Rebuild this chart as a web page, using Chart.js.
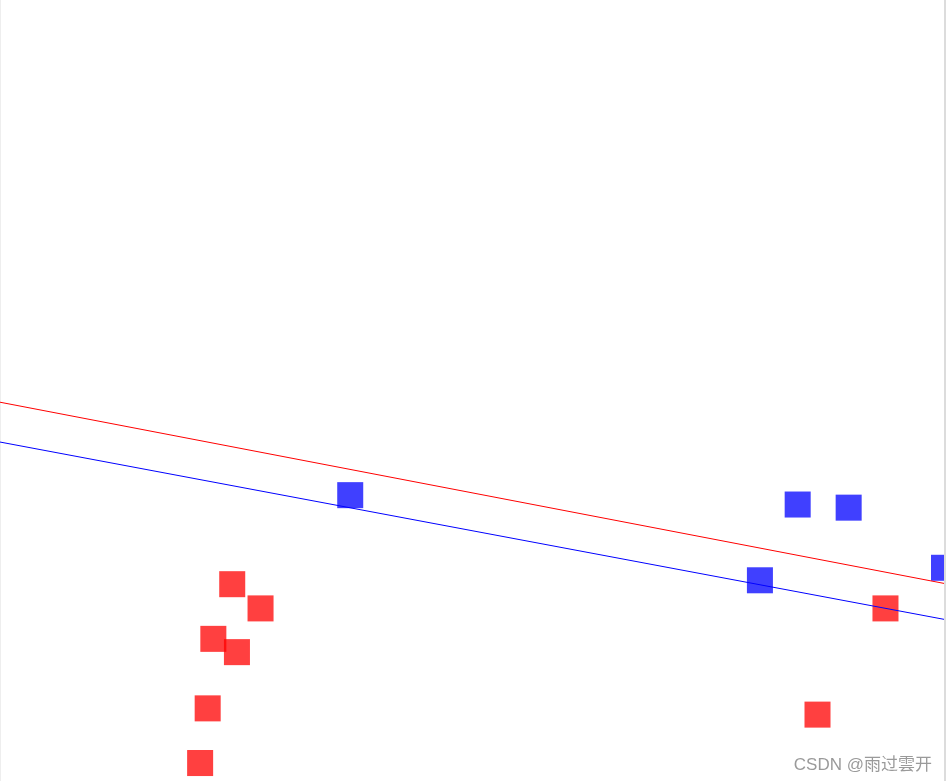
<!DOCTYPE html>
<html>
<head>
<meta charset="utf-8">
<title>scatter</title>
<script src="https://cdn.jsdelivr.net/npm/chart.js@4/dist/chart.umd.min.js"></script>
<style>
  html, body { margin: 0; padding: 0; background: #fff; }
  #wrap { position: relative; width: 947px; height: 781px; overflow: hidden; }
  #leftEdge { position: absolute; left: 0; top: 0; width: 1px; height: 781px; background: #eeeeee; }
  #rightEdge { position: absolute; left: 944px; top: 0; width: 2px; height: 781px; background: #dcdcdc; }
  #plot { position: absolute; left: 0; top: 0; }
  #mark {
    position: absolute; right: 15px; top: 750px;
    font-family: "Liberation Sans", "Noto Sans CJK SC", sans-serif;
    font-size: 17px; color: #9a9a9a; white-space: nowrap;
  }
</style>
</head>
<body>
<div id="wrap">
  <div id="leftEdge"></div>
  <div id="rightEdge"></div>
  <canvas id="plot" width="944" height="781"></canvas>
  <div id="mark">CSDN @雨过雲开</div>
</div>
<script>
// pontos das duas classes (x, y) e as duas retas de decisão
const redX  = [2.46, 2.76, 2.26, 2.51, 2.20, 2.12, 9.38, 8.66];
const redY  = [2.52, 2.21, 1.82, 1.65, 0.93, 0.23, 2.21, 0.85];
const blueX = [3.71, 8.45, 8.99, 8.05, 10.0];
const blueY = [3.66, 3.54, 3.50, 2.57, 2.73];

const lineX     = [0, 10];
const redLineY  = [4.85, 2.53];
const blueLineY = [4.34, 2.07];

const toPts = (xs, ys) => xs.map((x, i) => ({ x, y: ys[i] }));

const squareStyle = (fill) => ({
  type: 'scatter',
  pointStyle: 'rect',
  pointRadius: 18.4,
  pointHoverRadius: 18.4,
  borderWidth: 0,
  backgroundColor: fill,
  pointBorderWidth: 0,
  clip: 0
});

const lineStyle = (color) => ({
  type: 'line',
  borderColor: color,
  borderWidth: 1,
  pointRadius: 0,
  fill: false,
  tension: 0,
  clip: 0
});

new Chart(document.getElementById('plot').getContext('2d'), {
  data: {
    datasets: [
      { ...lineStyle('#ff0000'), data: toPts(lineX, redLineY) },
      { ...lineStyle('#0000ff'), data: toPts(lineX, blueLineY) },
      { ...squareStyle('rgba(255,0,0,0.75)'), data: toPts(redX, redY) },
      { ...squareStyle('rgba(0,0,255,0.75)'), data: toPts(blueX, blueY) }
    ]
  },
  options: {
    responsive: false,
    animation: false,
    layout: { padding: 0, autoPadding: false },
    plugins: { legend: { display: false }, tooltip: { enabled: false } },
    scales: {
      x: { type: 'linear', display: false, min: 0, max: 10 },
      y: { type: 'linear', display: false, min: 0, max: 10 }
    }
  }
});
</script>
</body>
</html>
